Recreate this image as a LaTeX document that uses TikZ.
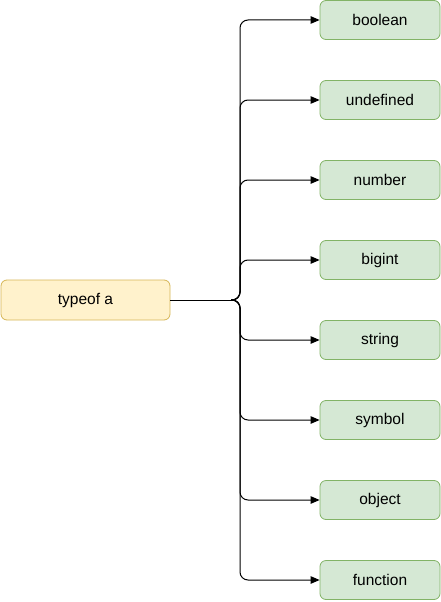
\documentclass[tikz,border=0pt]{standalone}
\usepackage{fontspec}
\setmainfont{Liberation Sans}
\usetikzlibrary{arrows.meta}
\definecolor{ylwfill}{HTML}{FFF2CC}
\definecolor{ylwdraw}{HTML}{D6B656}
\definecolor{grnfill}{HTML}{D5E8D4}
\definecolor{grndraw}{HTML}{82B366}
\tikzset{
  srcbox/.style={draw=ylwdraw, fill=ylwfill, rounded corners=6pt, minimum width=169pt, minimum height=40pt, inner sep=0pt, font=\fontsize{15.5}{18}\selectfont, line width=0.8pt},
  typebox/.style={draw=grndraw, fill=grnfill, rounded corners=6pt, minimum width=120pt, minimum height=39pt, inner sep=0pt, font=\fontsize{15.5}{18}\selectfont, line width=0.8pt},
  trunk/.style={draw=black, line width=1pt},
  conn/.style={draw=black, line width=1pt, rounded corners=8pt, -{Triangle[length=9pt,width=7.5pt]}}
}
\begin{document}
\begin{tikzpicture}[x=1pt,y=-1pt]
\useasboundingbox (0,0) rectangle (441,602);
\node[srcbox] (src) at (85.5,300) {typeof a};
\coordinate (split) at (231,300);
\draw[trunk] (src.east) -- (split);
\foreach \nm/\txt/\yy in {n1/boolean/20, n2/undefined/100, n3/number/180, n4/bigint/260, n5/string/340, n6/symbol/420, n7/object/500, n8/function/580}{
  \node[typebox] (\nm) at (380,\yy) {\txt};
  \draw[conn] (split) -- (240,300) -- (240,\yy) -- (\nm.west);
}
\end{tikzpicture}
\end{document}
